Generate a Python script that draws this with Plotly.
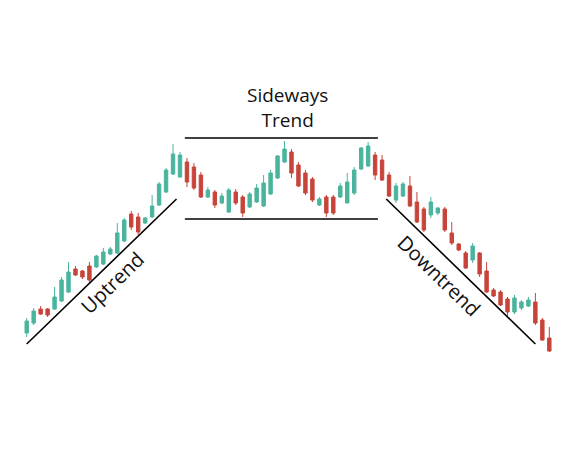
import plotly.graph_objects as go

# candle prices (price units = pixels above the bottom edge)
opens = [128, 138, 152, 152, 152, 160, 169, 192, 190, 195, 194, 197, 207, 208, 220, 247, 244, 238, 244, 256, 269, 287, 284,
         299, 294, 286, 264, 269, 258, 249, 269, 264, 254, 259, 255, 267, 283, 299, 309, 296, 288, 282, 256, 264, 264, 264, 258, 268, 292, 295, 306, 301,
         286, 261, 265, 275, 259, 252, 246, 248, 252, 228, 217, 208, 201, 208, 190, 171, 169, 162, 149, 153, 155, 159, 141, 123]
closes = [140, 150, 147, 146, 164, 181, 189, 186, 184, 181, 205, 209, 212, 228, 241, 234, 229, 243, 255, 277, 291, 307, 306,
          279, 273, 264, 271, 256, 265, 271, 258, 248, 267, 273, 278, 288, 305, 312, 288, 275, 268, 261, 262, 248, 248, 275, 279, 291, 313, 315, 286, 281,
          265, 275, 277, 255, 239, 231, 259, 253, 231, 218, 211, 193, 215, 187, 169, 165, 156, 149, 163, 159, 161, 138, 121, 110]
highs = [143, 153, 155, 153, 174, 184, 199, 195, 191, 199, 206, 213, 214, 238, 243, 250, 248, 244, 266, 279, 293, 317, 309,
         303, 298, 289, 274, 271, 268, 273, 272, 266, 269, 277, 286, 291, 306, 320, 312, 299, 291, 284, 264, 266, 266, 278, 288, 294, 314, 319, 309, 306,
         289, 278, 279, 285, 269, 254, 264, 254, 254, 239, 218, 210, 218, 209, 199, 173, 171, 164, 166, 161, 164, 168, 143, 134]
lows = [124, 136, 146, 144, 151, 159, 168, 185, 182, 178, 193, 196, 206, 207, 219, 231, 226, 237, 243, 255, 268, 286, 283,
        274, 271, 263, 263, 253, 257, 248, 256, 244, 253, 258, 254, 266, 282, 298, 283, 274, 266, 259, 255, 244, 246, 263, 258, 266, 291, 294, 281, 280,
        264, 258, 264, 254, 238, 229, 243, 246, 229, 216, 210, 192, 198, 184, 168, 164, 155, 145, 147, 151, 154, 136, 120, 109]
idx = list(range(len(opens)))

GREEN = "#4AB49E"
RED = "#C8443A"

# trend guide lines (candle index, price)
up_line = ((0, 117), (21.5, 262))
top_line = ((22.7, 323), (50.4, 323))
bottom_line = ((22.7, 242), (50.4, 242))
down_line = ((51.6, 262), (73.0, 117))

fig = go.Figure()
fig.add_trace(go.Candlestick(
    x=idx, open=opens, high=highs, low=lows, close=closes,
    increasing=dict(line=dict(color=GREEN, width=1), fillcolor=GREEN),
    decreasing=dict(line=dict(color=RED, width=1), fillcolor=RED),
    showlegend=False, hoverinfo="skip",
))

for (x0, y0), (x1, y1) in [up_line, top_line, bottom_line, down_line]:
    fig.add_shape(type="line", x0=x0, y0=y0, x1=x1, y1=y1,
                  xref="x", yref="y", line=dict(color="black", width=1.6))

font = dict(family="Open Sans", color="#111111")
fig.add_annotation(x=37.4, y=354, text="Sideways<br>Trend", showarrow=False, font=dict(size=19, **font))
fig.add_annotation(x=12.3, y=179, text="Uptrend", textangle=-44, showarrow=False, font=dict(size=20, **font))
fig.add_annotation(x=59.2, y=186, text="Downtrend", textangle=44, showarrow=False, font=dict(size=20, **font))

# page body has an 8px margin, so the figure is 8px smaller and the ranges compensate
fig.update_layout(
    width=568, height=453,
    margin=dict(l=0, r=0, t=0, b=0),
    paper_bgcolor="white", plot_bgcolor="white",
    xaxis=dict(range=[-2.684, 78.83], visible=False, rangeslider=dict(visible=False), fixedrange=True),
    yaxis=dict(range=[0, 453], visible=False, fixedrange=True),
)

fig.write_html("out.html")
